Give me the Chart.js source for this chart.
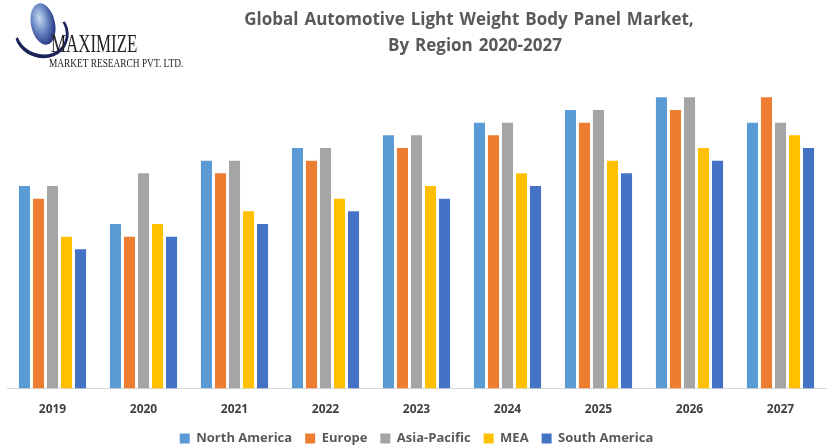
<!DOCTYPE html>
<html>
<head>
<meta charset="utf-8">
<script src="https://cdn.jsdelivr.net/npm/chart.js@4/dist/chart.umd.min.js"></script>
<style>
html,body{margin:0;padding:0;background:#fff;}
#wrap{position:relative;width:832px;height:447px;overflow:hidden;}
#c{position:absolute;left:0;top:0;}
#title{position:absolute;left:230px;width:478px;top:6px;text-align:center;font-family:"Open Sans",sans-serif;font-weight:700;font-size:17px;line-height:26px;color:#595959;word-spacing:1.5px;}
#t2{position:relative;left:6px;}
#logo{position:absolute;left:0;top:0;width:200px;height:75px;}
#globe{position:absolute;left:31px;top:3px;width:24px;height:42px;border-radius:50%;background:radial-gradient(ellipse at 40% 35%,#c9d8f0 0%,#6f8fc9 35%,#2c3f8a 70%,#141d4f 100%);transform:rotate(-12deg);}
#swoosh{position:absolute;left:14px;top:8px;width:50px;height:44px;border-radius:50%;border-bottom:4px solid #1b2457;border-right:3px solid #1b2457;border-top:2px solid transparent;border-left:2px solid transparent;transform:rotate(20deg);}
#m1{position:absolute;left:51px;top:30px;font-family:"Liberation Serif",serif;font-size:26px;color:#222;transform:scaleX(0.65);transform-origin:left top;line-height:28px;white-space:nowrap;}
#m2{position:absolute;left:49px;top:56px;font-family:"Liberation Serif",serif;font-size:12px;color:#222;transform:scaleX(0.78);transform-origin:left top;line-height:14px;white-space:nowrap;}
</style>
</head>
<body>
<div id="wrap">
<canvas id="c" width="832" height="447"></canvas>
<div id="logo"><div id="swoosh"></div><div id="globe"></div><div id="m1">MAXIMIZE</div><div id="m2">MARKET RESEARCH PVT. LTD.</div></div>
<div id="title">Global Automotive Light Weight Body Panel Market,<br><span id="t2">By Region 2020-2027</span></div>
</div>
<script>
const categories = ["2019","2020","2021","2022","2023","2024","2025","2026","2027"];
const northAmerica = [16,13,18,19,20,21,22,23,21];
const europe       = [15,12,17,18,19,20,21,22,23];
const asiaPacific  = [16,17,18,19,20,21,22,23,21];
const mea          = [12,13,14,15,16,17,18,19,20];
const southAmerica = [11,12,13,14,15,16,17,18,19];
const seriesNames  = ["North America","Europe","Asia-Pacific","MEA","South America"];
const colors = ["#5B9BD5","#ED7D31","#A5A5A5","#FFC000","#4472C4"];
const seriesData = [northAmerica, europe, asiaPacific, mea, southAmerica];

new Chart(document.getElementById('c'), {
  type: 'bar',
  data: {
    labels: categories,
    datasets: seriesData.map((d,i)=>({label:seriesNames[i],data:d,backgroundColor:colors[i],borderWidth:0,categoryPercentage:0.77,barPercentage:0.79}))
  },
  options: {
    responsive:false,
    animation:false,
    layout:{padding:{left:7,right:6,top:72,bottom:-8}},
    scales:{
      x:{grid:{display:false},border:{display:true,color:'#d9d9d9',width:1},
         afterFit:(s)=>{s.height -= 4;},
         ticks:{color:'#404040',padding:6,font:{family:'"Open Sans", sans-serif',size:12,weight:'bold'}}},
      y:{display:false,min:0,max:25}
    },
    plugins:{
      legend:{position:'bottom',labels:{boxWidth:10,boxHeight:10,color:'#595959',padding:13,font:{family:'"Open Sans", sans-serif',size:13,weight:'bold'}}},
      tooltip:{enabled:false}
    }
  }
});
</script>
</body>
</html>
